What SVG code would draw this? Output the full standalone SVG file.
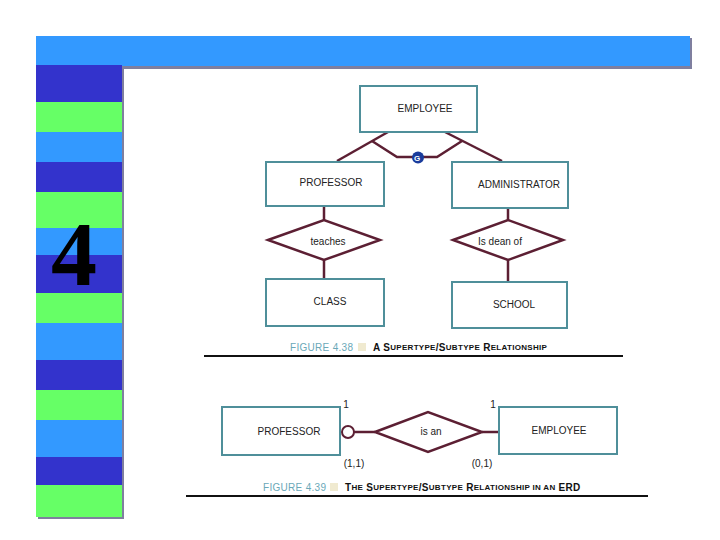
<svg xmlns="http://www.w3.org/2000/svg" width="720" height="540" viewBox="0 0 720 540">
<style>
.box{fill:#ffffff;stroke:#4f8f9a;stroke-width:2}
.rel{fill:#ffffff;stroke:#5c1f33;stroke-width:2.5;stroke-linejoin:miter}
.ln{fill:none;stroke:#5c1f33;stroke-width:2.5}
.t{font-family:"Liberation Sans",Arial,sans-serif;font-size:10px;fill:#222;text-anchor:middle;dominant-baseline:central}
.cap{font-family:"Liberation Sans",Arial,sans-serif;font-size:10px;fill:#111;font-weight:bold;dominant-baseline:central;letter-spacing:0.3px}
.sc{font-size:8px}
.fig{font-family:"Liberation Sans",Arial,sans-serif;font-size:10px;fill:#6aa8b8;dominant-baseline:central;letter-spacing:0.3px}
.lb{fill:#3399ff}.db{fill:#3333cc}.gr{fill:#66ff66}
.four{font-family:"Liberation Serif","Times New Roman",serif;font-size:92px;font-weight:bold;fill:#000;text-anchor:middle}
</style>
<rect width="720" height="540" fill="#ffffff"/>
<g id="frame">
<rect x="38" y="38" width="654" height="31" fill="#7f7f9f"/>
<rect x="38" y="66" width="86" height="453" fill="#7f7f9f"/>
<rect x="36" y="36" width="654" height="30" class="lb"/>
<rect x="36" y="65" width="86" height="37" class="db"/>
<rect x="36" y="102" width="86" height="30" class="gr"/>
<rect x="36" y="132" width="86" height="30" class="lb"/>
<rect x="36" y="162" width="86" height="30" class="db"/>
<rect x="36" y="192" width="86" height="36" class="gr"/>
<rect x="36" y="228" width="86" height="27" class="lb"/>
<rect x="36" y="255" width="86" height="38" class="db"/>
<rect x="36" y="293" width="86" height="30" class="gr"/>
<rect x="36" y="323" width="86" height="37" class="lb"/>
<rect x="36" y="360" width="86" height="30" class="db"/>
<rect x="36" y="390" width="86" height="30" class="gr"/>
<rect x="36" y="420" width="86" height="37" class="lb"/>
<rect x="36" y="457" width="86" height="28" class="db"/>
<rect x="36" y="485" width="86" height="32" class="gr"/>
<text class="four" x="74" y="285">4</text>
</g>
<g id="connectors">
<line class="ln" x1="388" y1="132" x2="337" y2="161"/>
<line class="ln" x1="445" y1="132" x2="502" y2="161"/>
<polyline class="ln" points="372,141 397,157 437,157 462,141"/>
<line class="ln" x1="324" y1="206" x2="324" y2="220"/>
<line class="ln" x1="324" y1="260" x2="324" y2="279"/>
<line class="ln" x1="508" y1="208" x2="508" y2="220"/>
<line class="ln" x1="508" y1="260" x2="508" y2="282"/>
<line class="ln" x1="354" y1="432" x2="375" y2="432"/>
<line class="ln" x1="482" y1="432" x2="499" y2="432"/>
</g>
<g id="employee"><rect class="box" x="360" y="86" width="117" height="46"/><text class="t" x="425" y="108">EMPLOYEE</text></g>
<g id="gs"><circle cx="418" cy="157.5" r="6" fill="#1a3c9c"/><text x="417" y="158" font-family="Liberation Sans,Arial,sans-serif" font-size="8" font-weight="bold" fill="#fff" text-anchor="middle" dominant-baseline="central">G</text></g>
<g id="professor"><rect class="box" x="266" y="162" width="118" height="44"/><text class="t" x="331" y="182">PROFESSOR</text></g>
<g id="administrator"><rect class="box" x="452" y="162" width="116" height="46"/><text class="t" x="519" y="184">ADMINISTRATOR</text></g>
<g id="teaches"><polygon class="rel" points="268,240 324,220 380,240 324,260"/><text class="t" x="328" y="241">teaches</text></g>
<g id="isdeanof"><polygon class="rel" points="453,240 508,220 563,240 508,260"/><text class="t" x="500" y="241">Is dean of</text></g>
<g id="class"><rect class="box" x="266" y="279" width="118" height="47"/><text class="t" x="330" y="301">CLASS</text></g>
<g id="school"><rect class="box" x="452" y="282" width="115" height="46"/><text class="t" x="514" y="304">SCHOOL</text></g>
<g id="caption1">
<text class="fig" x="290" y="347">FIGURE 4.38</text>
<rect x="358" y="343" width="8" height="8" fill="#f0ead0"/>
<text class="cap" x="373" y="347">A S<tspan class="sc">UPERTYPE</tspan>/S<tspan class="sc">UBTYPE</tspan> R<tspan class="sc">ELATIONSHIP</tspan></text>
<line x1="204" y1="356" x2="623" y2="356" stroke="#111" stroke-width="2"/>
</g>
<g id="professor2"><rect class="box" x="222" y="407" width="118" height="48"/><text class="t" x="289" y="431">PROFESSOR</text></g>
<g id="optional"><circle cx="348" cy="432" r="6" fill="#fff" stroke="#5c1f33" stroke-width="2"/></g>
<g id="isan"><polygon class="rel" points="375,432 428,412 482,432 428,452"/><text class="t" x="431" y="431">is an</text></g>
<g id="employee2"><rect class="box" x="499" y="407" width="118" height="47"/><text class="t" x="559" y="430">EMPLOYEE</text></g>
<g id="cardinalities">
<text class="t" x="346" y="404">1</text>
<text class="t" x="493" y="404">1</text>
<text class="t" x="354" y="463">(1,1)</text>
<text class="t" x="482" y="463">(0,1)</text>
</g>
<g id="caption2">
<text class="fig" x="263" y="487">FIGURE 4.39</text>
<rect x="330" y="483" width="8" height="8" fill="#f0ead0"/>
<text class="cap" x="345" y="487">T<tspan class="sc">HE</tspan> S<tspan class="sc">UPERTYPE</tspan>/S<tspan class="sc">UBTYPE</tspan> R<tspan class="sc">ELATIONSHIP IN AN</tspan> ERD</text>
<line x1="186" y1="496" x2="648" y2="496" stroke="#111" stroke-width="2"/>
</g>
</svg>
